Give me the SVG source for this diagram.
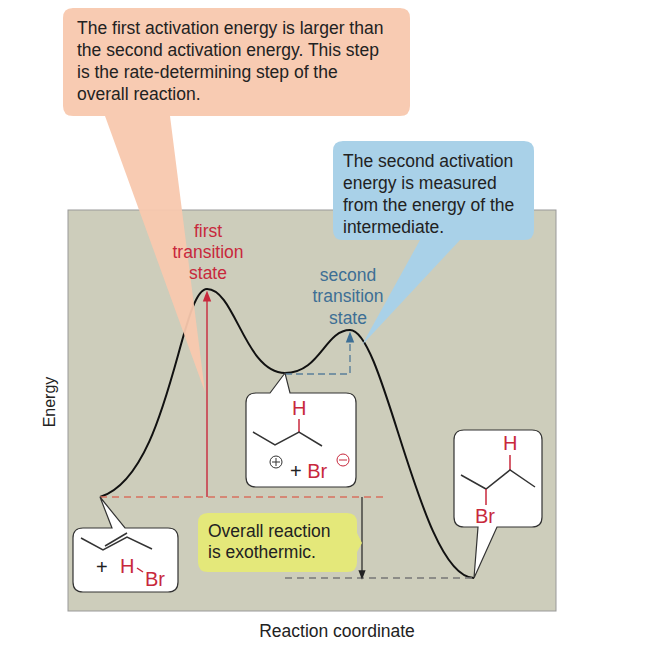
<svg xmlns="http://www.w3.org/2000/svg" width="648" height="670" viewBox="0 0 648 670">
<style>
text{font-family:"Liberation Sans",Arial,sans-serif;}
.t{font-size:17.5px;fill:#222;}
.m{font-size:20px;}
.red{fill:#c8283c;}
.blue{fill:#3d6f95;}
.box{fill:#fff;stroke:#333;stroke-width:1.2;}
.bond{stroke:#333;stroke-width:1.5;fill:none;}
.rb{stroke:#c8283c;stroke-width:1.5;fill:none;}
</style>
<defs>
<marker id="ar" markerWidth="8" markerHeight="8" refX="4" refY="4" orient="auto"><path d="M0,1 L8,4 L0,7z" fill="#c8283c"/></marker>
<marker id="ab" markerWidth="8" markerHeight="8" refX="4" refY="4" orient="auto"><path d="M0,1 L8,4 L0,7z" fill="#3d6f95"/></marker>
<marker id="ak" markerWidth="8" markerHeight="8" refX="4" refY="4" orient="auto"><path d="M0,1 L8,4 L0,7z" fill="#222"/></marker>
</defs>
<rect width="648" height="670" fill="#fff"/>
<rect x="68" y="210" width="488" height="401" fill="#cdcdbb" stroke="#999" stroke-width="1"/>
<text x="55" y="402" class="t" style="font-size:16px" text-anchor="middle" transform="rotate(-90 55 402)">Energy</text>
<text x="337" y="637" class="t" text-anchor="middle">Reaction coordinate</text>
<g id="connectors">
<path d="M100,497 C170,475 180,289 207,289 C235,289 245,373 285,373 C320,373 325,330 350,330 C385,330 420,578 474,578" fill="none" stroke="#111" stroke-width="2"/>
<line x1="100" y1="497" x2="383" y2="497" stroke="#d8705f" stroke-width="1.4" stroke-dasharray="7,5"/>
<line x1="207" y1="497" x2="207" y2="296" stroke="#c8283c" stroke-width="1.4" marker-end="url(#ar)"/>
<path d="M285,374 H350 V337" fill="none" stroke="#5a7f9a" stroke-width="1.4" stroke-dasharray="7,4" marker-end="url(#ab)"/>
<line x1="285" y1="578" x2="474" y2="578" stroke="#777" stroke-width="1.4" stroke-dasharray="7,5"/>
<line x1="362" y1="497" x2="362" y2="575" stroke="#222" stroke-width="1.2" marker-end="url(#ak)"/>
</g>
<g id="callout1">
<path d="M73,8 H400 Q410,8 410,18 V106 Q410,116 400,116 H170 L205,392 L105,116 H73 Q63,116 63,106 V18 Q63,8 73,8Z" fill="#f8c8ae" opacity="0.95"/>
<text class="t" x="77" y="34">The first activation energy is larger than</text>
<text class="t" x="77" y="56">the second activation energy. This step</text>
<text class="t" x="77" y="78">is the rate-determining step of the</text>
<text class="t" x="77" y="100">overall reaction.</text>
</g>
<g id="callout2">
<path d="M343,141 H524 Q534,141 534,151 V230 Q534,240 524,240 H460 L362,345 L420,240 H343 Q333,240 333,230 V151 Q333,141 343,141Z" fill="#a9d1e8"/>
<text class="t" x="343" y="167">The second activation</text>
<text class="t" x="343" y="189">energy is measured</text>
<text class="t" x="343" y="211">from the energy of the</text>
<text class="t" x="343" y="233">intermediate.</text>
</g>
<g id="callout3">
<path d="M208,513 H347 Q357,513 357,523 V533 L362,543 L357,552 V562 Q357,572 347,572 H208 Q198,572 198,562 V523 Q198,513 208,513Z" fill="#e4e87a"/>
<text class="t" x="208" y="537">Overall reaction</text>
<text class="t" x="208" y="558">is exothermic.</text>
</g>
<g id="ts-labels">
<text class="t red" x="208" y="237" text-anchor="middle">first</text>
<text class="t red" x="208" y="258" text-anchor="middle">transition</text>
<text class="t red" x="208" y="279" text-anchor="middle">state</text>
<text class="t blue" x="348" y="281" text-anchor="middle">second</text>
<text class="t blue" x="348" y="302" text-anchor="middle">transition</text>
<text class="t blue" x="348" y="324" text-anchor="middle">state</text>
</g>
<g id="reactant">
<path d="M85,528 H112 L100,497 L125,528 H168 Q178,528 178,538 V582 Q178,592 168,592 H83 Q73,592 73,582 V538 Q73,528 83,528Z" class="box"/>
<path d="M81,538 L103,550 L127,537 L152,549" class="bond"/>
<path d="M105,546 L127,533" class="bond"/>
<text class="t m" x="96" y="574">+</text>
<text class="t m red" x="120" y="573">H</text>
<line x1="137" y1="568" x2="143" y2="572" class="rb"/>
<text class="t m red" x="145" y="586">Br</text>
</g>
<g id="intermediate">
<path d="M256,393 H270 L285,373 L290,393 H346 Q356,393 356,403 V477 Q356,487 346,487 H256 Q246,487 246,477 V403 Q246,393 256,393Z" class="box"/>
<text class="t m red" x="292" y="415">H</text>
<line x1="299" y1="419" x2="299" y2="432" class="rb"/>
<path d="M253,432 L275,445 L299,432 L322,446" class="bond"/>
<circle cx="276" cy="462" r="6" fill="none" stroke="#333" stroke-width="1"/>
<path d="M272,462 H280 M276,458 V466" stroke="#333" stroke-width="1"/>
<text class="t m" x="290" y="478">+ <tspan class="red">Br</tspan></text>
<circle cx="343" cy="460" r="6" fill="none" stroke="#c8283c" stroke-width="1"/>
<line x1="339" y1="460" x2="347" y2="460" stroke="#c8283c" stroke-width="1"/>
</g>
<g id="product">
<path d="M464,430 H532 Q542,430 542,440 V517 Q542,527 532,527 H497 L474,578 L478,527 H464 Q454,527 454,517 V440 Q454,430 464,430Z" class="box"/>
<text class="t m red" x="503" y="450">H</text>
<line x1="510" y1="455" x2="510" y2="470" class="rb"/>
<path d="M461,475 L486,489 L510,470 L535,487" class="bond"/>
<line x1="486" y1="489" x2="486" y2="505" class="rb"/>
<text class="t m red" x="475" y="523">Br</text>
</g>
</svg>
